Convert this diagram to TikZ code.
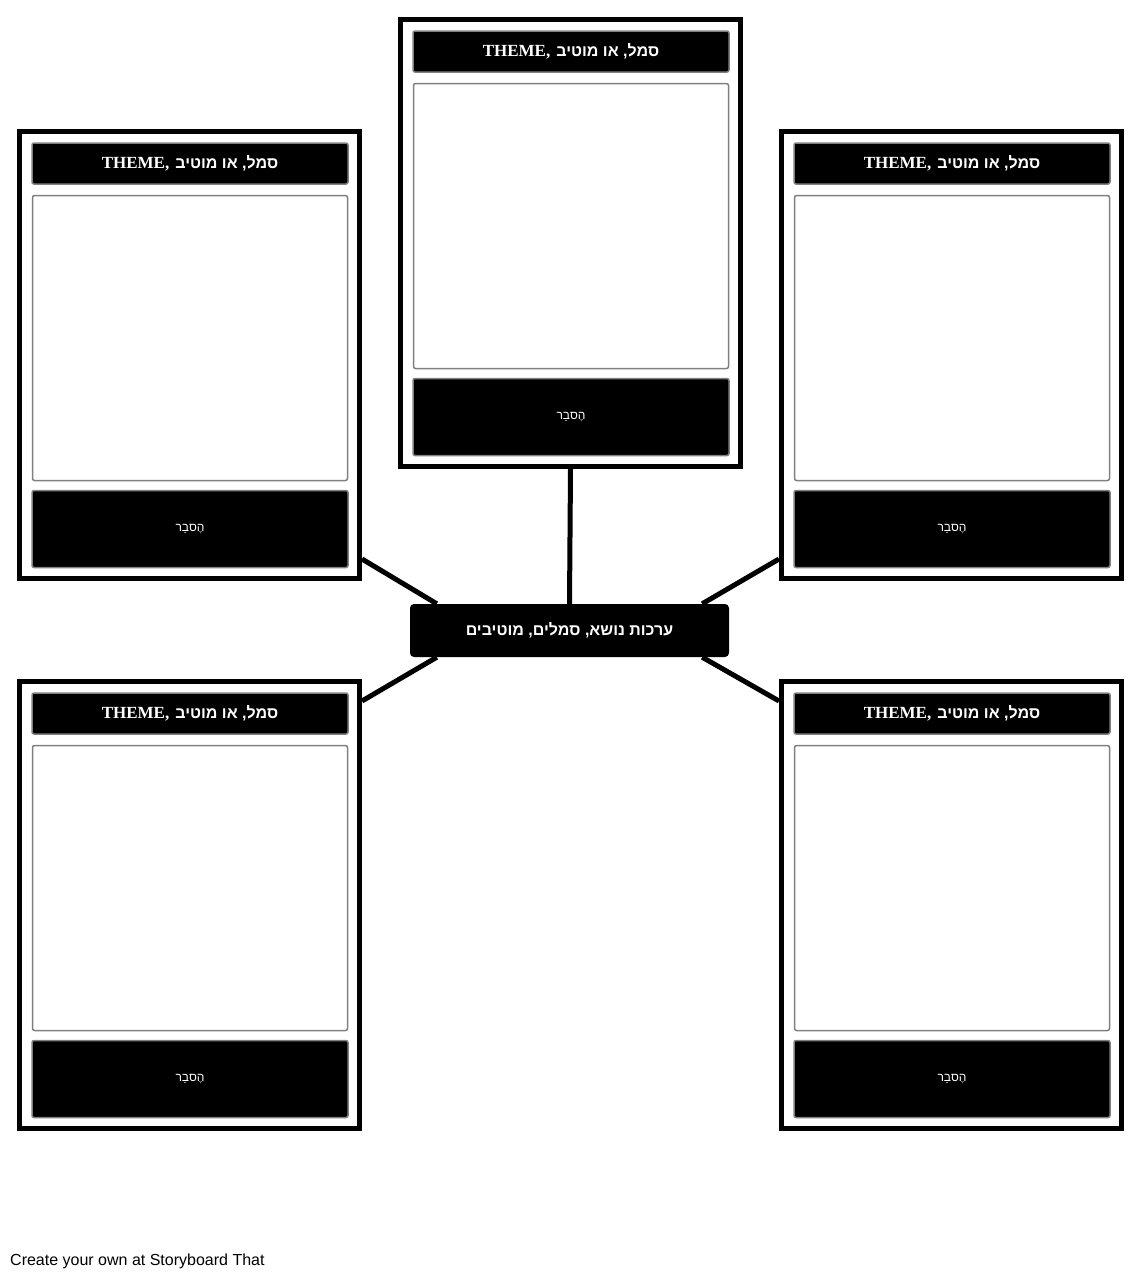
\documentclass[tikz,border=0pt]{standalone}
\usepackage{fontspec}
\setmainfont{Liberation Sans}
\newfontfamily\heb[Script=Hebrew]{Liberation Sans}
\newfontfamily\slab{Liberation Serif}
\TeXXeTstate=1
\usetikzlibrary{calc}
\pgfdeclarelayer{bg}
\pgfsetlayers{bg,main}
\definecolor{boxgray}{RGB}{128,128,128}
\tikzset{
  frame/.style={draw=black, line width=5pt, fill=white, minimum width=340pt, minimum height=447pt, inner sep=0pt},
  titlebox/.style={draw=boxgray, fill=black, line width=1.5pt, rounded corners=2pt, minimum width=316pt, minimum height=41pt, text=white, inner sep=0pt},
  imgbox/.style={draw=boxgray, fill=white, line width=1.5pt, rounded corners=2pt, minimum width=315pt, minimum height=285pt, inner sep=0pt},
  explbox/.style={draw=boxgray, fill=black, line width=1.5pt, rounded corners=2pt, minimum width=316pt, minimum height=77pt, text=white, inner sep=0pt},
  hub/.style={fill=black, rounded corners=4pt, minimum width=319pt, minimum height=53pt, text=white, inner sep=0pt},
  link/.style={draw=black, line width=5pt},
}
\newcommand\titletext{{\slab\bfseries\fontsize{17}{19}\selectfont THEME,}\hspace{6pt}{\heb\bfseries\fontsize{16}{18}\selectfont\beginR סמל, או מוטיב\endR}}
\newcommand\expltext{{\heb\fontsize{12}{14}\selectfont\beginR הֶסבֵר\endR}}
\newcommand\mypanel[3]{%
  \node[frame] (#1) at ({#2+172.5},{#3+226}) {};
  \node[titlebox] (#1-t) at ({#2+173},{#3+34.5}) {\titletext};
  \node[imgbox] (#1-i) at ({#2+173},{#3+209}) {};
  \node[explbox] (#1-e) at ({#2+173},{#3+400}) {\expltext};
}
\begin{document}
\begin{tikzpicture}[x=1pt,y=-1pt]
\useasboundingbox (0,0) rectangle (1143,1278);
\mypanel{tc}{398}{17}
\mypanel{lt}{17}{129}
\mypanel{rt}{779}{129}
\mypanel{lb}{17}{679}
\mypanel{rb}{779}{679}
\node[hub] (c) at (569.5,630.5) {\heb\bfseries\fontsize{16}{19}\selectfont\beginR ערכות נושא, סמלים, מוטיבים\endR};
\begin{pgfonlayer}{bg}
\fill[white] (0,0) rectangle (1143,1278);
\draw[link] (tc.south) -- (c.north);
\draw[link] ($(lt.south east)+(0,-22)$) -- ($(c.north west)+(27,0)$);
\draw[link] ($(rt.south west)+(0,-22)$) -- ($(c.north east)+(-27,0)$);
\draw[link] ($(lb.north east)+(0,22)$) -- ($(c.south west)+(27,0)$);
\draw[link] ($(rb.north west)+(0,22)$) -- ($(c.south east)+(-27,0)$);
\end{pgfonlayer}
\node[anchor=base west, font=\fontsize{16}{19}\selectfont, inner sep=0pt] (foot) at (10,1265) {Create your own at Storyboard That};
\end{tikzpicture}
\end{document}
